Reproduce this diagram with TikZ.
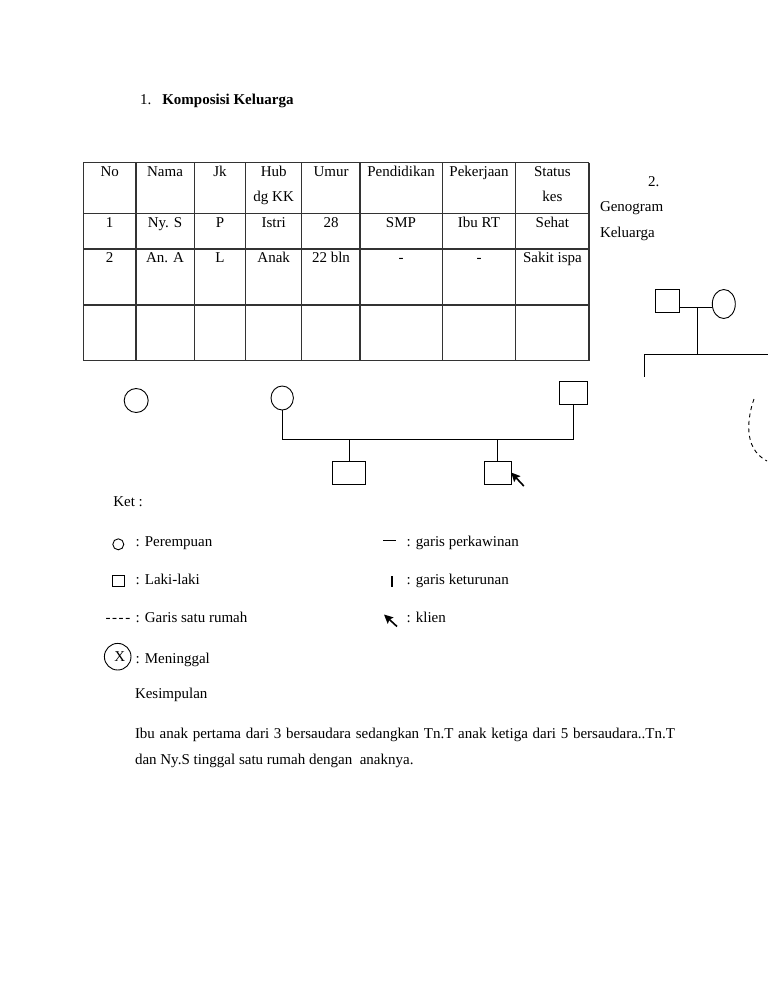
\documentclass[tikz,border=0pt]{standalone}
\usepackage{fontspec}
\setmainfont{Liberation Serif}
\newfontfamily\plainserif{Liberation Serif}
\usetikzlibrary{arrows.meta,shapes.geometric}
\begin{document}
\begin{tikzpicture}[x=1pt,y=-1pt,
  every node/.style={font=\fontsize{15}{18}\selectfont, inner sep=0pt, outer sep=0pt},
  txt/.style={anchor=base west},
  ctxt/.style={anchor=base},
  tline/.style={line width=1.1pt, draw=black!80},
  gline/.style={line width=0.9pt},
  male/.style={draw, rectangle, line width=0.9pt},
  female/.style={draw, ellipse, line width=0.9pt},
  klien/.style={line width=1.6pt, -{Stealth[length=9pt,width=8.5pt,inset=1.5pt]}},
]
\useasboundingbox (0,0) rectangle (768,994);
\fill[white] (0,0) rectangle (768,994);

% title
\node[txt] (t1) at (140,104) {1.};
\node[txt, font=\fontsize{15}{18}\selectfont\bfseries] (t2) at (162.3,104) {Komposisi Keluarga};

% table grid
\foreach \xx in {83.3,136,194.3,245.7,301.7,360,442.3,515.7,589}
  \draw[tline] (\xx,162.7) -- (\xx,360.7);
\foreach \yy in {162.7,213.3,249,305,360.7}
  \draw[tline] (83.3,\yy) -- (589,\yy);

% header
\node[ctxt] (h1) at (109.7,176) {No};
\node[ctxt] (h2) at (165,176) {Nama};
\node[ctxt] (h3) at (220,176) {Jk};
\node[ctxt] (h4) at (273.7,176) {Hub};
\node[ctxt] (h4b) at (273.7,201) {dg KK};
\node[ctxt] (h5) at (331,176) {Umur};
\node[ctxt] (h6) at (401,176) {Pendidikan};
\node[ctxt] (h7) at (479,176) {Pekerjaan};
\node[ctxt] (h8) at (552.4,176) {Status};
\node[ctxt] (h8b) at (552.4,201) {kes};
% row 1
\node[ctxt] (a1) at (109.7,227.5) {1};
\node[ctxt] (a2) at (165,227.5) {Ny. S};
\node[ctxt] (a3) at (220,227.5) {P};
\node[ctxt] (a4) at (273.7,227.5) {Istri};
\node[ctxt] (a5) at (331,227.5) {28};
\node[ctxt] (a6) at (401,227.5) {SMP};
\node[ctxt] (a7) at (479,227.5) {Ibu RT};
\node[ctxt] (a8) at (552.4,227.5) {Sehat};
% row 2
\node[ctxt] (b1) at (109.7,262) {2};
\node[ctxt] (b2) at (165,262) {An. A};
\node[ctxt] (b3) at (220,262) {L};
\node[ctxt] (b4) at (273.7,262) {Anak};
\node[ctxt] (b5) at (331,262) {22 bln};
\node[ctxt] (b6) at (401,262) {-};
\node[ctxt] (b7) at (479,262) {-};
\node[ctxt] (b8) at (552.4,262) {Sakit ispa};

% genogram heading
\node[txt] (g1) at (648,186) {2.};
\node[txt] (g2) at (600,211.5) {Genogram};
\node[txt] (g3) at (600,237.5) {Keluarga};

% upper right genogram
\node[male, minimum width=23.6pt, minimum height=23pt] (gD) at (667.5,300.8) {};
\node[female, minimum width=23pt, minimum height=29pt] (gE) at (723.8,304) {};
\coordinate (m) at (697,307);
\draw[gline] (gD.east |- m) -- (gE.west |- m);
\coordinate (sib2) at (697,354.3);
\draw[gline] (m) -- (sib2);
\coordinate (sibR) at (768,354.3);
\coordinate (sibLL) at (644.7,354.3);
\coordinate (dn) at (644.7,377.3);
\draw[gline] (sibR) -- (sibLL) -- (dn);
\coordinate (ds) at (754,399);
\coordinate (de) at (767,461);
\draw[gline, dash pattern=on 4pt off 3.5pt] (ds) .. controls (748,416) and (742,448) .. (de);

% lower genogram
\node[draw, circle, line width=0.9pt, minimum size=24pt] (gA) at (136.2,400.5) {};
\node[female, minimum width=22.4pt, minimum height=24pt] (gB) at (282.2,398) {};
\node[male, minimum width=28.7pt, minimum height=22.3pt] (gC) at (573.3,392.8) {};
\coordinate (sibL) at (282.2,439.3);
\draw[gline] (gB.south) -- (sibL) -| (gC.south);
\node[male, minimum width=33.3pt, minimum height=23pt] (ch1) at (349,472.5) {};
\node[male, minimum width=26.7pt, minimum height=23pt] (ch2) at (497.8,472.5) {};
\draw[gline] (ch1.north) -- (ch1.north |- sibL);
\draw[gline] (ch2.north) -- (ch2.north |- sibL);
\coordinate (kt) at (523.8,486);
\draw[klien] (kt) -- (ch2.east);

% legend
\node[txt] (ket) at (113.3,506.5) {Ket :};
\node[draw, circle, line width=0.9pt, minimum size=11pt] (lc) at (118.3,544.3) {};
\node[txt] (lct) at (135.7,546) {: Perempuan};
\node[male, minimum width=12pt, minimum height=11pt] (ls) at (118.3,580.5) {};
\node[txt] (lst) at (135.7,584.3) {: Laki-laki};
\node[txt, font=\fontsize{15}{18}\plainserif] (ldash) at (105.5,622.3) {-\hspace{1.6pt}-\hspace{1.6pt}-\hspace{1.6pt}-};
\node[txt] (ldt) at (135.7,622.3) {: Garis satu rumah};
\node[draw, circle, line width=0.9pt, minimum size=26.6pt] (lx) at (117.7,656.7) {\raisebox{-3pt}{\hspace{4pt}X}};
\node[txt] (lxt) at (135.7,663.3) {: Meninggal};

\coordinate (pa) at (383.3,540.7);
\coordinate (pb) at (396,540.7);
\draw[gline] (pa) -- (pb);
\node[txt] (lpt) at (406.7,546) {: garis perkawinan};
\coordinate (ka) at (392,576);
\coordinate (kb) at (392,586.5);
\draw[line width=1.2pt] (ka) -- (kb);
\node[txt] (lkt) at (406.7,584.3) {: garis keturunan};
\coordinate (ar1) at (397,626.5);
\coordinate (ar2) at (384,614.5);
\draw[klien] (ar1) -- (ar2);
\node[txt] (lat) at (406.7,622.3) {: klien};

% conclusion
\node[txt] (ks) at (135,698.5) {Kesimpulan};
\node[txt] (p1) at (135,738.5) {\makebox[540pt][s]{Ibu anak pertama dari 3 bersaudara sedangkan Tn.T anak ketiga dari 5 bersaudara..Tn.T}};
\node[txt] (p2) at (135,764.5) {dan Ny.S tinggal satu rumah dengan \ anaknya.};
\end{tikzpicture}
\end{document}
